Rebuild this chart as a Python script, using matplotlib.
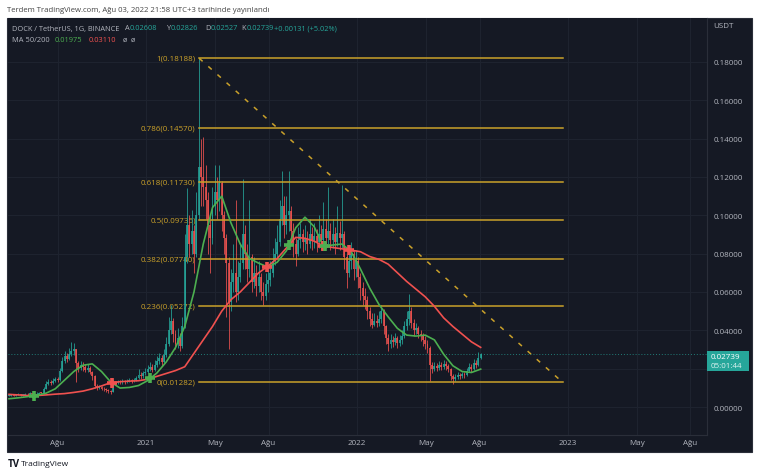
import numpy as np
import pandas as pd
import matplotlib
matplotlib.use("Agg")
import matplotlib.pyplot as plt
import matplotlib.dates as mdates
from matplotlib.patches import Rectangle

# DOCK/USDT, candles (one candle per 4 days from 2020-05-09)
first_open = 0.0058
close = [0.0060, 0.0063, 0.0059, 0.0064, 0.0067, 0.0062, 0.0065, 0.0069, 0.0066, 0.0071,
         0.0068, 0.0064, 0.0070, 0.0074, 0.0072, 0.0095, 0.0120, 0.0132, 0.0125, 0.0138,
         0.0145, 0.0140, 0.0190, 0.0240, 0.0265, 0.0250, 0.0275, 0.0290, 0.0300, 0.0230,
         0.0205, 0.0220, 0.0210, 0.0195, 0.0205, 0.0185, 0.0160, 0.0110, 0.0100, 0.0105,
         0.0095, 0.0092, 0.0088, 0.0082, 0.0078, 0.0130, 0.0125, 0.0132, 0.0128, 0.0134,
         0.0130, 0.0136, 0.0140, 0.0135, 0.0142, 0.0150, 0.0165, 0.0160, 0.0175, 0.0185,
         0.0200, 0.0210, 0.0195, 0.0220, 0.0240, 0.0255, 0.0235, 0.0270, 0.0330, 0.0400,
         0.0450, 0.0380, 0.0330, 0.0360, 0.0320, 0.0420, 0.0780, 0.0950, 0.0850, 0.0920,
         0.0800, 0.1000, 0.1250, 0.1200, 0.1150, 0.1080, 0.0950, 0.0880, 0.1050, 0.1120,
         0.1080, 0.1170, 0.1000, 0.0880, 0.0750, 0.0550, 0.0650, 0.0700, 0.0600, 0.0680,
         0.0750, 0.0900, 0.0800, 0.0720, 0.0780, 0.0650, 0.0700, 0.0630, 0.0680, 0.0600,
         0.0580, 0.0640, 0.0660, 0.0700, 0.0760, 0.0800, 0.0860, 0.0980, 0.1050, 0.0950,
         0.1000, 0.1020, 0.0920, 0.0850, 0.0800, 0.0870, 0.0900, 0.0860, 0.0880, 0.0850,
         0.0900, 0.0870, 0.0890, 0.0860, 0.0900, 0.0870, 0.0930, 0.0880, 0.0920, 0.0870,
         0.0900, 0.0860, 0.0910, 0.0880, 0.0900, 0.0780, 0.0700, 0.0760, 0.0800, 0.0720,
         0.0760, 0.0680, 0.0620, 0.0580, 0.0560, 0.0500, 0.0460, 0.0430, 0.0450, 0.0440,
         0.0460, 0.0500, 0.0420, 0.0360, 0.0330, 0.0350, 0.0340, 0.0360, 0.0335, 0.0350,
         0.0370, 0.0420, 0.0460, 0.0500, 0.0440, 0.0400, 0.0410, 0.0380, 0.0370, 0.0350,
         0.0330, 0.0310, 0.0220, 0.0200, 0.0215, 0.0205, 0.0220, 0.0210, 0.0225, 0.0215,
         0.0200, 0.0160, 0.0145, 0.0155, 0.0165, 0.0160, 0.0170, 0.0165, 0.0190, 0.0210,
         0.0200, 0.0230, 0.0220, 0.0255, 0.02739]
high = [0.0066, 0.0068, 0.0065, 0.0069, 0.0072, 0.0069, 0.0070, 0.0075, 0.0072, 0.0077,
        0.0074, 0.0070, 0.0076, 0.0080, 0.0079, 0.0105, 0.0135, 0.0146, 0.0140, 0.0150,
        0.0158, 0.0155, 0.0205, 0.0262, 0.0290, 0.0280, 0.0310, 0.0340, 0.0335, 0.0305,
        0.0240, 0.0240, 0.0235, 0.0225, 0.0225, 0.0215, 0.0190, 0.0165, 0.0118, 0.0115,
        0.0110, 0.0102, 0.0098, 0.0094, 0.0088, 0.0145, 0.0138, 0.0142, 0.0140, 0.0145,
        0.0142, 0.0146, 0.0150, 0.0148, 0.0152, 0.0162, 0.0200, 0.0180, 0.0190, 0.0205,
        0.0220, 0.0235, 0.0225, 0.0245, 0.0265, 0.0280, 0.0270, 0.0300, 0.0365, 0.0470,
        0.0530, 0.0465, 0.0400, 0.0410, 0.0385, 0.0470, 0.0900, 0.1140, 0.1000, 0.1030,
        0.0950, 0.1120, 0.18188, 0.1400, 0.1410, 0.1260, 0.1120, 0.1000, 0.1150, 0.1260,
        0.1200, 0.1260, 0.1180, 0.1020, 0.0900, 0.0780, 0.0720, 0.0850, 0.1080, 0.0760,
        0.0850, 0.1190, 0.0950, 0.0850, 0.1080, 0.0800, 0.0780, 0.0740, 0.0760, 0.0700,
        0.0650, 0.0700, 0.0720, 0.0760, 0.0830, 0.0880, 0.0950, 0.1080, 0.1230, 0.1100,
        0.1100, 0.1230, 0.1050, 0.0960, 0.0880, 0.0940, 0.0960, 0.0930, 0.0950, 0.0920,
        0.0980, 0.0940, 0.0960, 0.0930, 0.1000, 0.0950, 0.1070, 0.0980, 0.1150, 0.0960,
        0.0980, 0.0940, 0.1050, 0.0970, 0.1160, 0.0920, 0.0800, 0.0830, 0.0860, 0.0820,
        0.0820, 0.0780, 0.0700, 0.0650, 0.0620, 0.0580, 0.0520, 0.0490, 0.0490, 0.0480,
        0.0500, 0.0530, 0.0510, 0.0430, 0.0380, 0.0380, 0.0370, 0.0385, 0.0370, 0.0375,
        0.0400, 0.0450, 0.0500, 0.0590, 0.0520, 0.0460, 0.0440, 0.0420, 0.0400, 0.0385,
        0.0370, 0.0350, 0.0320, 0.0235, 0.0235, 0.0230, 0.0240, 0.0235, 0.0245, 0.0240,
        0.0225, 0.0205, 0.0170, 0.0170, 0.0180, 0.0178, 0.0185, 0.0182, 0.0205, 0.0230,
        0.0225, 0.0250, 0.0245, 0.0287, 0.02826]
low = [0.0056, 0.0058, 0.0055, 0.0057, 0.0061, 0.0058, 0.0060, 0.0063, 0.0062, 0.0064,
       0.0063, 0.0060, 0.0062, 0.0068, 0.0067, 0.0070, 0.0092, 0.0115, 0.0115, 0.0120,
       0.0130, 0.0128, 0.0135, 0.0185, 0.0230, 0.0235, 0.0245, 0.0265, 0.0270, 0.0130,
       0.0185, 0.0195, 0.0190, 0.0180, 0.0185, 0.0170, 0.0140, 0.0100, 0.0090, 0.0092,
       0.0088, 0.0085, 0.0080, 0.0075, 0.0068, 0.0076, 0.0115, 0.0118, 0.0118, 0.0122,
       0.0120, 0.0124, 0.0128, 0.0126, 0.0130, 0.0136, 0.0145, 0.0148, 0.0152, 0.0165,
       0.0175, 0.0190, 0.0180, 0.0190, 0.0210, 0.0225, 0.0215, 0.0230, 0.0260, 0.0320,
       0.0380, 0.0340, 0.0300, 0.0310, 0.0290, 0.0310, 0.0410, 0.0750, 0.0780, 0.0800,
       0.0700, 0.0780, 0.0980, 0.1050, 0.1050, 0.0980, 0.0800, 0.0700, 0.0850, 0.1000,
       0.0980, 0.1020, 0.0920, 0.0800, 0.0470, 0.0300, 0.0500, 0.0600, 0.0550, 0.0560,
       0.0650, 0.0720, 0.0720, 0.0650, 0.0680, 0.0600, 0.0620, 0.0580, 0.0600, 0.0560,
       0.0530, 0.0560, 0.0600, 0.0630, 0.0680, 0.0740, 0.0780, 0.0840, 0.0950, 0.0880,
       0.0900, 0.0920, 0.0850, 0.0780, 0.0735, 0.0790, 0.0830, 0.0810, 0.0820, 0.0800,
       0.0830, 0.0820, 0.0830, 0.0810, 0.0830, 0.0820, 0.0850, 0.0830, 0.0850, 0.0820,
       0.0830, 0.0800, 0.0840, 0.0820, 0.0830, 0.0720, 0.0620, 0.0680, 0.0720, 0.0660,
       0.0680, 0.0620, 0.0560, 0.0530, 0.0510, 0.0460, 0.0420, 0.0410, 0.0420, 0.0415,
       0.0425, 0.0440, 0.0380, 0.0330, 0.0290, 0.0310, 0.0315, 0.0325, 0.0310, 0.0320,
       0.0330, 0.0360, 0.0400, 0.0430, 0.0410, 0.0370, 0.0380, 0.0360, 0.0345, 0.0320,
       0.0305, 0.0280, 0.0136, 0.0175, 0.0190, 0.0190, 0.0195, 0.0195, 0.0200, 0.0195,
       0.0180, 0.0140, 0.0120, 0.0135, 0.0145, 0.0148, 0.0152, 0.0150, 0.0160, 0.0180,
       0.0185, 0.0195, 0.0205, 0.0215, 0.02527]

# moving averages, one reading every 16 days
ma50 = [0.0043, 0.0048, 0.0054, 0.0062, 0.0072, 0.0095, 0.0140, 0.0185, 0.0218, 0.0225,
        0.0185, 0.0130, 0.0099, 0.0102, 0.0112, 0.0138, 0.0178, 0.0235, 0.0310, 0.0420,
        0.0600, 0.0850, 0.1040, 0.1100, 0.0960, 0.0850, 0.0775, 0.0750, 0.0730, 0.0755,
        0.0815, 0.0935, 0.0990, 0.0940, 0.0838, 0.0845, 0.0850, 0.0810, 0.0720, 0.0620,
        0.0535, 0.0470, 0.0410, 0.0375, 0.0370, 0.0375, 0.0350, 0.0275, 0.0215, 0.0185,
        0.0180, 0.01975]
ma200 = [0.0066, 0.0063, 0.0060, 0.0060, 0.0063, 0.0067, 0.0070, 0.0076, 0.0083, 0.0095,
         0.0110, 0.0127, 0.0132, 0.0135, 0.0137, 0.0145, 0.0160, 0.0175, 0.0190, 0.0210,
         0.0280, 0.0350, 0.0420, 0.0500, 0.0560, 0.0600, 0.0650, 0.0700, 0.0735, 0.0775,
         0.0830, 0.0885, 0.0880, 0.0865, 0.0840, 0.0832, 0.0825, 0.0818, 0.0810, 0.0785,
         0.0770, 0.0745, 0.0700, 0.0655, 0.0615, 0.0575, 0.0525, 0.0465, 0.0420, 0.0380,
         0.0340, 0.03110]

fib_ratios = ["1", "0.786", "0.618", "0.5", "0.382", "0.236", "0"]
fib_prices = [0.18188, 0.14570, 0.11730, 0.09735, 0.07740, 0.05272, 0.01282]
fib_start = "2021-04-03"
fib_end = "2022-12-23"
last_price = 0.02739

price_ticks = [0.0, 0.02, 0.04, 0.06, 0.08, 0.10, 0.12, 0.14, 0.16, 0.18]
date_ticks = ["2020-08-01", "2021-01-01", "2021-05-01", "2021-08-01", "2022-01-01",
              "2022-05-01", "2022-08-01", "2023-01-01", "2023-05-01", "2023-08-01"]
date_labels = ["Ağu", "2021", "May", "Ağu", "2022", "May", "Ağu", "2023", "May", "Ağu"]

BG = "#151924"
GRID = "#1f2430"
TXT = "#b2b5be"
UP = "#26a69a"
DOWN = "#ef5350"
GOLD = "#caa12a"
MA_G = "#4caf50"
MA_R = "#f0514f"

W, H = 760, 477
plt.rcParams["font.family"] = ["Open Sans", "DejaVu Sans"]
fig = plt.figure(figsize=(W / 100, H / 100), dpi=100, facecolor="white")

def fx(px):
    return px / W

def fy(py):
    return 1 - py / H

# dark panel behind everything
fig.patches.append(Rectangle((fx(7), fy(453)), fx(752) - fx(7), fy(19) - fy(453),
                             transform=fig.transFigure, facecolor=BG, edgecolor="#2a2e39",
                             lw=0.8, zorder=-5))

ax = fig.add_axes([fx(8), fy(436), fx(707) - fx(8), fy(19) - fy(436)])
ax.set_facecolor(BG)

dates = pd.date_range("2020-05-09", periods=len(close), freq="4D")
xd = mdates.date2num(dates)
ma_x = xd[::4]
opens = [first_open] + close[:-1]

ax.set_xlim(mdates.date2num(pd.Timestamp("2021-01-01")) - 238.8,
            mdates.date2num(pd.Timestamp("2021-01-01")) + 970.6)
ax.set_ylim(-0.0146, 0.2029)

# grid
for t in price_ticks:
    ax.axhline(t, color=GRID, lw=0.7, zorder=0)
tick_x = mdates.date2num(pd.to_datetime(date_ticks))
for t in tick_x:
    ax.axvline(t, color=GRID, lw=0.7, zorder=0)

# fib labels sit under the candles
fx0 = mdates.date2num(pd.Timestamp(fib_start))
fx1 = mdates.date2num(pd.Timestamp(fib_end))
for r, p in zip(fib_ratios, fib_prices):
    ax.text(fx0 - 6, p, f"{r}({p:.5f})", color=GOLD, fontsize=5.8, ha="right",
            va="center", zorder=1)

# candles
cols = [UP if c >= o else DOWN for o, c in zip(opens, close)]
ax.vlines(xd, low, high, colors=cols, lw=0.7, alpha=0.8, zorder=2)
bot = [min(o, c) for o, c in zip(opens, close)]
hgt = [max(abs(c - o), 0.0004) for o, c in zip(opens, close)]
ax.bar(xd, hgt, bottom=bot, width=3.4, color=cols, alpha=0.8, lw=0, zorder=2)

# fib lines and diagonal
for p in fib_prices:
    ax.plot([fx0, fx1], [p, p], color=GOLD, lw=1.1, zorder=3)
ax.plot([fx0, fx1], [fib_prices[0], fib_prices[-1]], color=GOLD, lw=1.1,
        ls=(0, (3, 5)), zorder=3)

# moving averages
ax.plot(ma_x, ma200, color=MA_R, lw=1.2, zorder=4)
ax.plot(ma_x, ma50, color=MA_G, lw=1.2, zorder=4)

# cross markers where the averages meet
d = np.array(ma50) - np.array(ma200)
for i in range(1, len(d)):
    if np.sign(d[i]) != np.sign(d[i - 1]):
        t = d[i - 1] / (d[i - 1] - d[i])
        xc = ma_x[i - 1] + t * (ma_x[i] - ma_x[i - 1])
        yc = ma50[i - 1] + t * (ma50[i] - ma50[i - 1])
        ax.plot(xc, yc, marker="+", ms=7, mew=2.6,
                color=MA_G if d[i] > 0 else MA_R, zorder=5)

# last price line
ax.axhline(last_price, color=UP, lw=0.7, ls=(0, (1, 2)), alpha=0.7, zorder=1)

# axes cosmetics
for s in ["top", "left"]:
    ax.spines[s].set_visible(False)
for s in ["right", "bottom"]:
    ax.spines[s].set_color("#2a2e39")
ax.yaxis.tick_right()
ax.set_yticks(price_ticks)
# the 0.02000 label is hidden behind the last-price tag
ax.set_yticklabels(["" if t == 0.02 else f"{t:.5f}" for t in price_ticks])
ax.set_xticks(tick_x)
ax.set_xticklabels(date_labels)
ax.tick_params(axis="y", length=0, pad=5, labelsize=5.8, labelcolor=TXT)
ax.tick_params(axis="x", length=0, pad=3, labelsize=5.8, labelcolor=TXT)

# price tag
fig.patches.append(Rectangle((fx(707), fy(372)), fx(749) - fx(707), fy(352) - fy(372),
                             transform=fig.transFigure, facecolor=UP, lw=0, zorder=10))
fig.text(fx(711), fy(357.5), "0.02739", color="white", fontsize=5.8, va="center", zorder=11)
fig.text(fx(711), fy(367), "05:01:44", color="#dff3f1", fontsize=5.8, va="center", zorder=11)
fig.text(fx(713), fy(27), "USDT", color=TXT, fontsize=5.8, va="center")

# header texts
fig.text(fx(7), fy(11), "Terdem TradingView.com, Ağu 03, 2022 21:58 UTC+3 tarihinde yayınlandı",
         color="#444444", fontsize=5.6, va="center")
hy = fy(29)
parts = [(12, "DOCK / TetherUS, 1G, BINANCE", TXT), (125, "A", TXT), (130, "0.02608", UP),
         (165.7, "Y", TXT), (170.7, "0.02826", UP), (205.7, "D", TXT), (210.7, "0.02527", UP),
         (241.3, "K", TXT), (246.7, "0.02739", UP), (274, "+0.00131 (+5.02%)", UP)]
for px, s, c in parts:
    fig.text(fx(px), hy, s, color=c, fontsize=5.3, va="center")
hy2 = fy(40)
for px, s, c in [(12, "MA 50/200", TXT), (55, "0.01975", MA_G), (88.3, "0.03110", MA_R),
                 (122.7, "ø", TXT), (131, "ø", TXT)]:
    fig.text(fx(px), hy2, s, color=c, fontsize=5.4, va="center")

# footer logo
fig.text(fx(8), fy(465), "TV", color="#131722", fontsize=7, fontweight="bold", va="center")
fig.text(fx(21), fy(465), "TradingView", color="#131722", fontsize=6, va="center")

fig.savefig("out.png", dpi=100, facecolor="white")
